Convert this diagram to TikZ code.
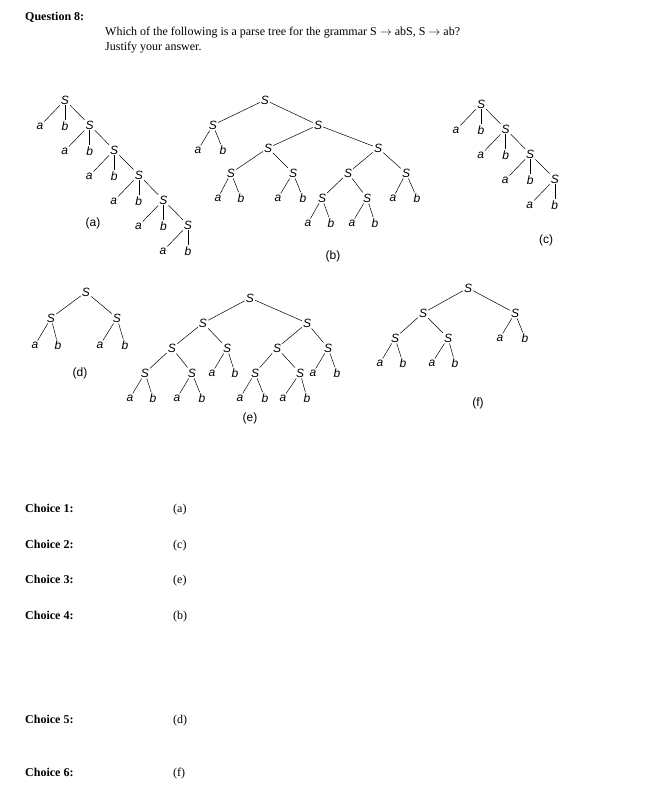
\documentclass[tikz,border=0pt]{standalone}
\usepackage{fontspec}
\setmainfont{Liberation Serif}
\newfontfamily\tsans{Liberation Sans}
\begin{document}
\begin{tikzpicture}[x=1pt,y=-1pt,
  t/.style={font=\tsans\itshape\fontsize{12}{12}\selectfont,inner sep=1pt},
  lbl/.style={font=\tsans\fontsize{12}{12}\selectfont,inner sep=0},
  txt/.style={font=\fontsize{12}{14}\selectfont,anchor=base west,inner sep=0},
  e/.style={draw,line width=0.5pt}]
\useasboundingbox[fill=white] (0,0) rectangle (652,796);
\node[txt,font=\bfseries\fontsize{12}{14}\selectfont] (q) at (25,20) {Question 8:};
\node[txt] (q1) at (105,35) {Which of the following is a parse tree for the grammar S $\rightarrow$ abS, S $\rightarrow$ ab?};
\node[txt] (q2) at (105,50) {Justify your answer.};
% chain trees
\foreach \name/\x/\y/\n in {A/65/100/5, C/481/104/3}{
  \foreach \k in {0,...,\n}{
    \pgfmathsetmacro\sx{\x+24.6*\k}\pgfmathsetmacro\sy{\y+25*\k}
    \node[t] (\name S\k) at (\sx,\sy) {S};
    \node[t] (\name a\k) at (\sx-25,\sy+26) {a};
    \node[t] (\name b\k) at (\sx,\sy+26) {b};
    \draw[e] (\name S\k) -- (\name a\k);
    \draw[e] (\name S\k) -- (\name b\k);
  }
  \foreach \k in {1,...,\n}{
    \pgfmathtruncatemacro\p{\k-1}
    \draw[e] (\name S\p) -- (\name S\k);
  }
}
\node[lbl] (la) at (93,223) {(a)};
\node[lbl] (lc) at (546,240) {(c)};
\foreach \nm/\x/\y/\s in {
 B0/265/100/S, B1/213/125/S, B2/318/125/S, B1a/198/150/a, B1b/223/150/b,
 B3/268/148/S, B4/378/148/S, B5/231/173/S, B6/293/173/S,
 B5a/218/198/a, B5b/241/198/b, B6a/278/198/a, B6b/303/198/b,
 B7/348/173/S, B8/406/173/S, B9/322/198/S, B10/367/198/S,
 B9a/308/223/a, B9b/331/223/b, B10a/352/223/a, B10b/375/223/b, B8a/393/198/a, B8b/417/198/b,
 D0/86/292/S, D1/51/318/S, D2/117/318/S, D1a/35/345/a, D1b/58/345/b, D2a/100/345/a, D2b/125/345/b,
 E0/250/298/S, E1/203/323/S, E2/307/323/S, E3/172/348/S, E4/227/348/S,
 E5/145/373/S, E6/192/373/S, E5a/130/398/a, E5b/153/398/b, E6a/177/398/a, E6b/202/398/b,
 E4a/212/373/a, E4b/235/373/b, E7/277/348/S, E8/328/348/S,
 E9/255/373/S, E10/300/373/S, E9a/240/398/a, E9b/265/398/b, E10a/283/398/a, E10b/307/398/b,
 E8a/313/373/a, E8b/337/373/b,
 F0/468/288/S, F1/423/313/S, F2/515/313/S, F2a/500/338/a, F2b/525/338/b,
 F3/395/338/S, F4/448/338/S, F3a/380/363/a, F3b/403/363/b, F4a/432/363/a, F4b/455/363/b}
  {\node[t] (\nm) at (\x,\y) {\s};}
\foreach \p/\c in {B0/B1,B0/B2,B1/B1a,B1/B1b,B2/B3,B2/B4,B3/B5,B3/B6,B5/B5a,B5/B5b,B6/B6a,B6/B6b,
 B4/B7,B4/B8,B7/B9,B7/B10,B9/B9a,B9/B9b,B10/B10a,B10/B10b,B8/B8a,B8/B8b,
 D0/D1,D0/D2,D1/D1a,D1/D1b,D2/D2a,D2/D2b,
 E0/E1,E0/E2,E1/E3,E1/E4,E3/E5,E3/E6,E5/E5a,E5/E5b,E6/E6a,E6/E6b,E4/E4a,E4/E4b,
 E2/E7,E2/E8,E7/E9,E7/E10,E9/E9a,E9/E9b,E10/E10a,E10/E10b,E8/E8a,E8/E8b,
 F0/F1,F0/F2,F2/F2a,F2/F2b,F1/F3,F1/F4,F3/F3a,F3/F3b,F4/F4a,F4/F4b}
  {\draw[e] (\p) -- (\c);}
\node[lbl] (lb) at (333,256) {(b)};
\node[lbl] (ld) at (80,373) {(d)};
\node[lbl] (le) at (250,418) {(e)};
\node[lbl] (lf) at (478,403) {(f)};
\foreach \i/\y/\c in {1/512/a,2/548/c,3/583/e,4/619/b,5/723/d,6/776/f}{
  \node[txt,font=\bfseries\fontsize{12}{14}\selectfont] (ch\i) at (25,\y) {Choice \i:};
  \node[txt] (ans\i) at (173,\y) {(\c)};
}
\end{tikzpicture}
\end{document}
